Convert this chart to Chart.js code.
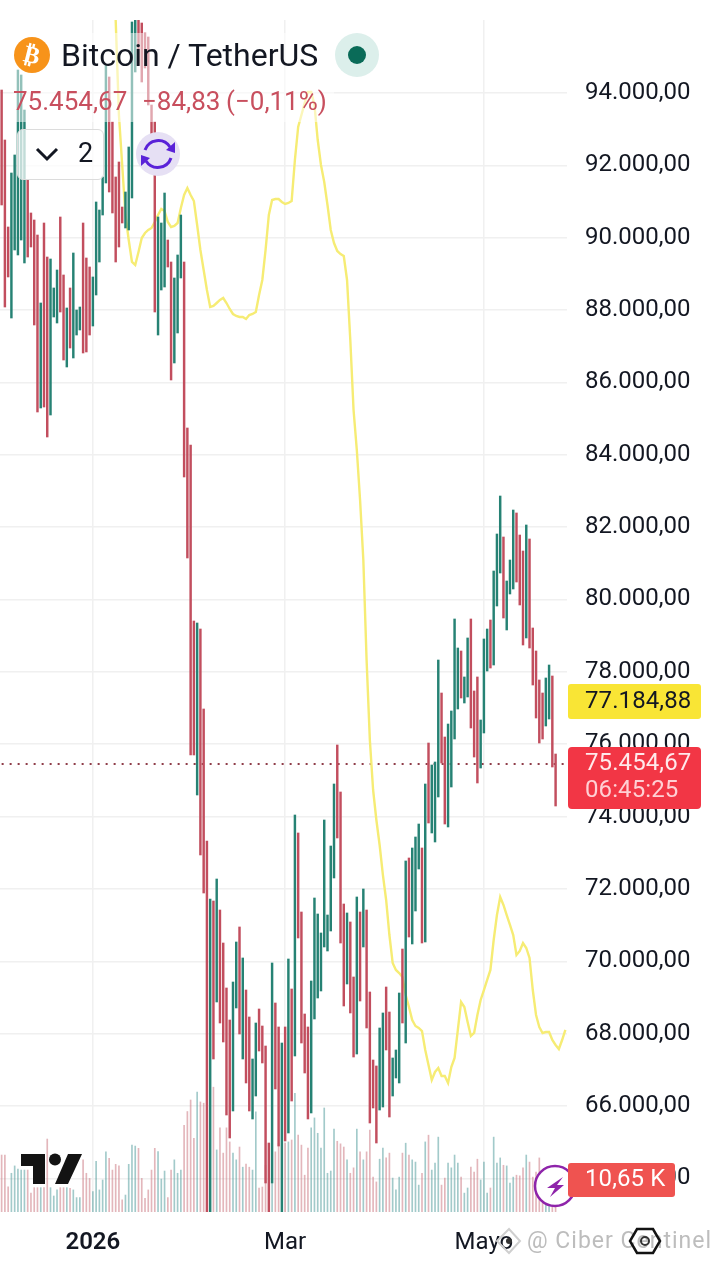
<!DOCTYPE html>
<html><head><meta charset="utf-8">
<script src="https://cdn.jsdelivr.net/npm/chart.js@4"></script>
<style>
html,body{margin:0;padding:0;background:#fff;width:720px;height:1265px;overflow:hidden;font-family:Roboto,sans-serif}
#wrap{position:relative;width:720px;height:1265px}
canvas{position:absolute;left:0;top:0}
.o{position:absolute;white-space:nowrap}
.lab{font-size:24px;line-height:28px;letter-spacing:.1px}
svg{position:absolute;left:0;top:0;overflow:visible}
</style></head><body>
<div id="wrap">
<canvas id="c" width="720" height="1265"></canvas>
<div class="o" style="left:14px;top:33px;width:320px;height:89px;background:rgba(255,255,255,.5)"></div>
<svg width="720" height="1265">
  <circle cx="32" cy="55" r="18" fill="#f7931a"/>
  <circle cx="357" cy="55" r="22" fill="#dcefeb"/>
  <circle cx="357" cy="55" r="9" fill="#0a6b58"/>
  <circle cx="158" cy="154" r="22" fill="#e6e0f4"/>
  <g fill="none" stroke="#5a22d8" stroke-width="3">
    <path d="M145 150 A14 14 0 0 1 170 147"/><path d="M171 158 A14 14 0 0 1 146 161"/>
  </g>
  <path d="M166 150 L175 142 L175 153 Z M150 158 L141 166 L141 155 Z" fill="#5a22d8"/>
  <path d="M21 1154H45V1184H33V1166H21Z" fill="#131313"/>
  <circle cx="55" cy="1159.5" r="6" fill="#131313"/>
  <path d="M68 1154H82L68 1184H55Z" fill="#131313"/>
  <circle cx="555" cy="1186" r="20" fill="#fff" stroke="#8e24aa" stroke-width="2.5"/>
  <path d="M563 1177L547 1188H555L550 1197L564 1185H557Z" fill="#8e24aa"/>
</svg>
<div class="o" style="left:20px;top:40px;width:24px;height:30px;color:#fff;font:bold 24px/30px 'DejaVu Sans';text-align:center;transform:rotate(14deg)">₿</div>
<div class="o" id="title" style="left:61px;top:36px;font-size:32px;line-height:38px;color:#131722">Bitcoin / TetherUS</div>
<div class="o" style="left:13px;top:86px;font-size:26px;line-height:30px;color:#c84f5e">75.454,67</div>
<div class="o" style="left:142px;top:86px;font-size:26px;line-height:30px;color:#c84f5e">−84,83</div>
<div class="o" style="left:226px;top:86px;font-size:26px;line-height:30px;color:#c84f5e">(−0,11%)</div>
<div class="o" style="left:17px;top:129px;width:85px;height:49px;background:rgba(255,255,255,.72);border:1.5px solid #dcdcdc;border-radius:6px"></div>
<svg width="720" height="1265"><path d="M37 149L47 159L57 149" fill="none" stroke="#131722" stroke-width="3"/></svg>
<div class="o" style="left:78px;top:137px;font-size:27px;line-height:32px;color:#131722">2</div>
<div class="o" style="left:568px;top:684px;width:133px;height:35px;background:#f9e535;border-radius:3px"></div>
<div class="o lab" style="left:585px;top:686px;color:#131722">77.184,88</div>
<div class="o" style="left:568px;top:747px;width:133px;height:62px;background:#f23645;border-radius:4px"></div>
<div class="o lab" style="left:585px;top:748px;color:#ffe9eb">75.454,67</div>
<div class="o lab" style="left:585px;top:775px;color:#ffd0d4">06:45:25</div>
<div class="o" style="left:568px;top:1163px;width:107px;height:34px;background:#ef5350;border-radius:3px"></div>
<div class="o lab" style="left:585px;top:1164px;color:#fff">10,65 K</div>
<div class="o" style="left:527px;top:1226px;font-size:23px;line-height:30px;letter-spacing:1px;color:#bdbdbd">@ Ciber Centinel</div>
<svg width="720" height="1265">
  <path d="M509 1229L520 1241L509 1253L497 1241Z" fill="none" stroke="#cfcfcf" stroke-width="2"/>
  <circle cx="509" cy="1241" r="3" fill="#333"/>
  <path d="M637 1229H653L660 1241L653 1253H637L630 1241Z" fill="none" stroke="#131313" stroke-width="2.5"/>
  <circle cx="645" cy="1241" r="4" fill="none" stroke="#333" stroke-width="2"/>
</svg>
</div>
<script>
const categories=["12-04","12-05","12-06","12-07","12-08","12-09","12-10","12-11","12-12","12-13","12-14","12-15","12-16","12-17","12-18","12-19","12-20","12-21","12-22","12-23","12-24","12-25","12-26","12-27","12-28","12-29","12-30","12-31",
"01-01","01-02","01-03","01-04","01-05","01-06","01-07","01-08","01-09","01-10","01-11","01-12","01-13","01-14","01-15","01-16","01-17","01-18","01-19","01-20","01-21","01-22","01-23","01-24","01-25","01-26","01-27","01-28","01-29","01-30","01-31",
"02-01","02-02","02-03","02-04","02-05","02-06","02-07","02-08","02-09","02-10","02-11","02-12","02-13","02-14","02-15","02-16","02-17","02-18","02-19","02-20","02-21","02-22","02-23","02-24","02-25","02-26","02-27","02-28",
"03-01","03-02","03-03","03-04","03-05","03-06","03-07","03-08","03-09","03-10","03-11","03-12","03-13","03-14","03-15","03-16","03-17","03-18","03-19","03-20","03-21","03-22","03-23","03-24","03-25","03-26","03-27","03-28","03-29","03-30","03-31",
"04-01","04-02","04-03","04-04","04-05","04-06","04-07","04-08","04-09","04-10","04-11","04-12","04-13","04-14","04-15","04-16","04-17","04-18","04-19","04-20","04-21","04-22","04-23","04-24","04-25","04-26","04-27","04-28","04-29","04-30",
"05-01","05-02","05-03","05-04","05-05","05-06","05-07","05-08","05-09","05-10","05-11","05-12","05-13","05-14","05-15","05-16","05-17","05-18","05-19","05-20","05-21","05-22","05-23","05-24","05-25","05-26"];
const axisLabels={"01-01":"2026","03-01":"Mar","05-01":"Mayo"};
const currentPrice=75454.67;
const priceTicks=[64000,66000,68000,70000,72000,74000,76000,78000,80000,82000,84000,86000,88000,90000,92000,94000];
const candleHigh=[94082,92700,90296,91788,92286,94635,94497,93529,91595,90683,90489,90074,88195,90406,89466,89411,88610,89107,90572,88969,88057,88610,89577,88001,88084,90406,89439,89190,88914,90987,90765,91678,94773,94442,93198,91678,92092,90848,91263,92507,95962,96293,96349,95934,95658,95547,93668,93198,90572,90406,91235,89936,89328,88886,89522,90627,89328,84740,84270,79405,79350,79184,76973,73325,71721,71666,72274,71417,70505,69262,68377,69427,70533,70948,70091,69206,68460,67299,68294,68681,68211,67658,64977,69953,68847,68184,67741,68184,70063,69234,74043,73546,71362,68543,68184,69455,71749,71307,70782,73905,71279,73186,74900,75978,74679,71583,71335,71086,69566,71777,71362,71998,71417,69151,67271,67106,68156,68571,69289,68598,67327,67548,69123,70339,72772,72855,73131,73435,73794,73131,74900,76033,75425,75508,78327,77415,76199,76558,76918,79461,78659,78576,77858,78936,79461,77471,77858,76669,78908,79184,79433,80787,81810,82860,81727,80511,81091,82473,82391,81782,81340,82059,81672,79212,78576,77775,77415,77830,78189,77885,75729];
const candleLow=[90904,88084,88914,87780,89660,89522,89936,89301,89466,89743,87587,85182,85293,85320,84491,85099,87808,87642,87946,86619,86426,86951,86675,87310,87449,86813,86841,87310,87559,88416,89328,90627,91512,91263,90683,89328,89743,90406,90268,90213,91097,94580,94773,94303,94690,93668,91926,87946,87310,88554,88637,89190,86067,86537,87366,88886,83386,81147,75702,75702,74596,72938,71887,63070,63070,67299,68875,68294,67769,65751,65116,65862,68709,67990,67299,66636,65862,65641,66276,67520,67189,63872,63070,63872,66470,64894,63070,65033,65254,66138,67382,70644,67741,66912,65641,65807,68405,68985,69179,70395,70284,70837,72302,73408,70505,68764,69372,68571,67354,67437,68902,70395,68156,65530,65945,64977,65889,65972,67548,65696,66276,66774,66636,68294,67741,70671,70478,71390,72551,70505,70533,73822,73546,73297,74541,75481,73794,73712,74817,76144,76973,77277,77139,77305,76448,75646,74928,75342,76310,78023,78106,78189,79820,80732,79488,79157,80152,80290,80483,79848,78742,78936,78659,77636,76724,76033,76144,76503,76697,75370,74292];
const candleDir=["r","r","r","t","t","t","t","t","r","r","r","r","t","r","r","t","t","t","r","r","t","r","t","t","t","r","r","r","t","t","t","t","t","r","r","r","r","r","t","t","t","t","r","r","r","r","r","r","t","t","t","r","r","t","t","t","r","r","r","r","t","r","r","r","t","r","t","r","r","r","r","t","t","r","t","r","r","t","t","r","r","r","r","t","r","r","t","r","t","r","t","r","r","r","r","t","t","t","t","t","t","t","t","r","r","r","t","r","r","t","r","t","r","r","r","r","t","t","r","r","t","t","t","r","t","r","t","t","t","r","t","r","t","t","t","r","r","t","t","t","t","r","t","t","r","r","r","t","t","t","r","t","t","t","r","t","t","t","r","r","r","t","r","r","r","r","r","t","t","r","r"];
const volumeK=[17.8,17.8,7.9,12.1,14.4,13.4,13.1,13.1,13.1,5.9,7.6,7.6,7.6,7.6,22.8,7.6,5,6.9,7.6,7.6,7.6,7.4,6.9,4.5,4.5,16.3,12.1,10.5,6.4,15.8,6.9,10,18.8,16.8,13.1,14.9,14.4,3.8,5.3,14.9,20.9,20.6,19.9,10.5,4.3,6.9,13.1,19.9,18.9,10.3,12.8,4.5,13.1,16.3,12.1,13.1,27.1,31.4,35,23,37.5,34.4,34,36.3,36.3,39,19.4,26.3,18.4,26.3,21.9,18.4,16.3,20.3,14,15,14,13.1,31.3,7.5,7.8,14.6,16.3,15.6,18.8,21.5,22.1,21.5,21.9,22.5,37.1,24,20.9,11.5,20,26.3,29.4,24.6,20,32.5,12.1,12.8,25.9,22.1,21.3,20.3,16.3,12.1,13.8,25.9,18.8,16.3,18.8,25.6,10.9,9.4,16.5,20,16.9,18.4,10.6,6.9,10.9,18.4,21.5,17.8,16.3,15.6,8.4,12.1,21.9,24,13.1,15.3,23.4,8.4,10.6,15.3,13.8,17.8,15.3,10.9,5.9,7.5,14,12.5,16.5,10,15.6,5.9,7.5,23.4,15.3,16.9,14.6,14.4,9,10.9,11.5,11.3,13.8,17.8,15.6,10.9,12.5,16.9,11,12,10,9,10.65];
const maValues=[null,null,null,null,null,null,null,null,null,null,null,null,null,null,null,null,null,null,null,null,null,null,null,null,null,null,null,null,null,null,null,null,null,null,null,
96020,93391,92009,90627,89936,89328,89245,89605,89992,90130,90213,90268,90434,90627,90793,90738,90434,90296,90323,90406,90821,91180,91374,91180,91014,90351,89660,89107,88554,88084,88112,88195,88278,88333,88195,88029,87891,87836,87808,87808,87753,87863,87891,87946,88416,88831,89660,90627,91042,91069,91069,90987,90931,90959,91014,92147,93060,93391,93723,94027,94027,93668,92700,92009,91539,90904,90213,89853,89632,89549,89494,88831,87172,85237,84132,82750,81091,78327,76116,74734,73905,73214,72385,71694,70726,69953,69759,69676,69566,69068,68736,68377,68211,68156,68073,67548,67133,66719,66940,67050,66829,66829,66636,67078,67327,68101,68875,68736,68322,67935,68018,68515,68930,69206,69483,69759,70588,71279,71777,71556,71279,71003,70726,70174,70284,70505,70367,70091,69206,68515,68184,68018,68045,68045,67824,67686,67575,67824,68101];

const RED='rgb(194,78,94)',TEAL='rgb(38,130,116)',REDV='rgba(200,110,120,.5)',TEALV='rgba(70,150,150,.5)';
const fmt=v=>{const s=String(Math.round(v));return s.slice(0,-3)+'.'+s.slice(-3)+',00';};

new Chart(document.getElementById('c'),{
  type:'bar',
  data:{labels:categories,datasets:[
    {type:'bar',label:'BTCUSDT',yAxisID:'y',order:0,grouped:false,barThickness:1.8,borderWidth:0,
     data:candleHigh.map((h,i)=>[candleLow[i],h]),
     backgroundColor:candleDir.map(d=>d==='r'?RED:TEAL)},
    {type:'line',label:'MA',yAxisID:'y',order:1,data:maValues,borderColor:'#f6ec74',borderWidth:2.4,pointRadius:0,tension:0,spanGaps:false},
    {type:'line',label:'Last',yAxisID:'y',order:1,data:categories.map(()=>currentPrice),borderColor:'#8f3d49',borderWidth:2,borderDash:[2,6],pointRadius:0},
    {type:'bar',label:'Volume',yAxisID:'vol',order:2,grouped:false,barThickness:1,borderWidth:0,data:volumeK,
     backgroundColor:candleDir.map(d=>d==='r'?REDV:TEALV)}
  ]},
  options:{
    responsive:false,animation:false,devicePixelRatio:1,
    layout:{padding:{top:20,left:0,right:0,bottom:0}},
    plugins:{legend:{display:false},tooltip:{enabled:false},title:{display:false}},
    scales:{
      x:{offset:true,border:{display:false},
         grid:{offset:false,drawTicks:false,lineWidth:1.5,color:c=>axisLabels[categories[c.index]]?'#f0f0f0':'transparent'},
         afterFit:s=>{s.height=53;s.paddingLeft=0;s.paddingRight=0;},
         ticks:{autoSkip:false,maxRotation:0,minRotation:0,padding:17,color:'#131722',
           font:c=>({family:'Roboto',size:24,weight:c.tick&&c.tick.label==='2026'?'600':'400'}),
           callback:function(v){return axisLabels[this.getLabelForValue(v)]||'';}}},
      y:{position:'right',min:63070,max:96017,border:{display:false},
         grid:{drawTicks:false,lineWidth:1.5,color:'#f0f0f0'},
         afterFit:s=>{s.width=153;s.paddingTop=0;s.paddingBottom=0;},
         afterBuildTicks:s=>{s.ticks=priceTicks.map(v=>({value:v}));},
         ticks:{padding:18,labelOffset:0,color:'#131722',font:{family:'Roboto',size:24},callback:v=>fmt(v)}},
      vol:{display:false,min:0,max:372.5,grid:{display:false}}
    }
  }
});
</script>
</body></html>
